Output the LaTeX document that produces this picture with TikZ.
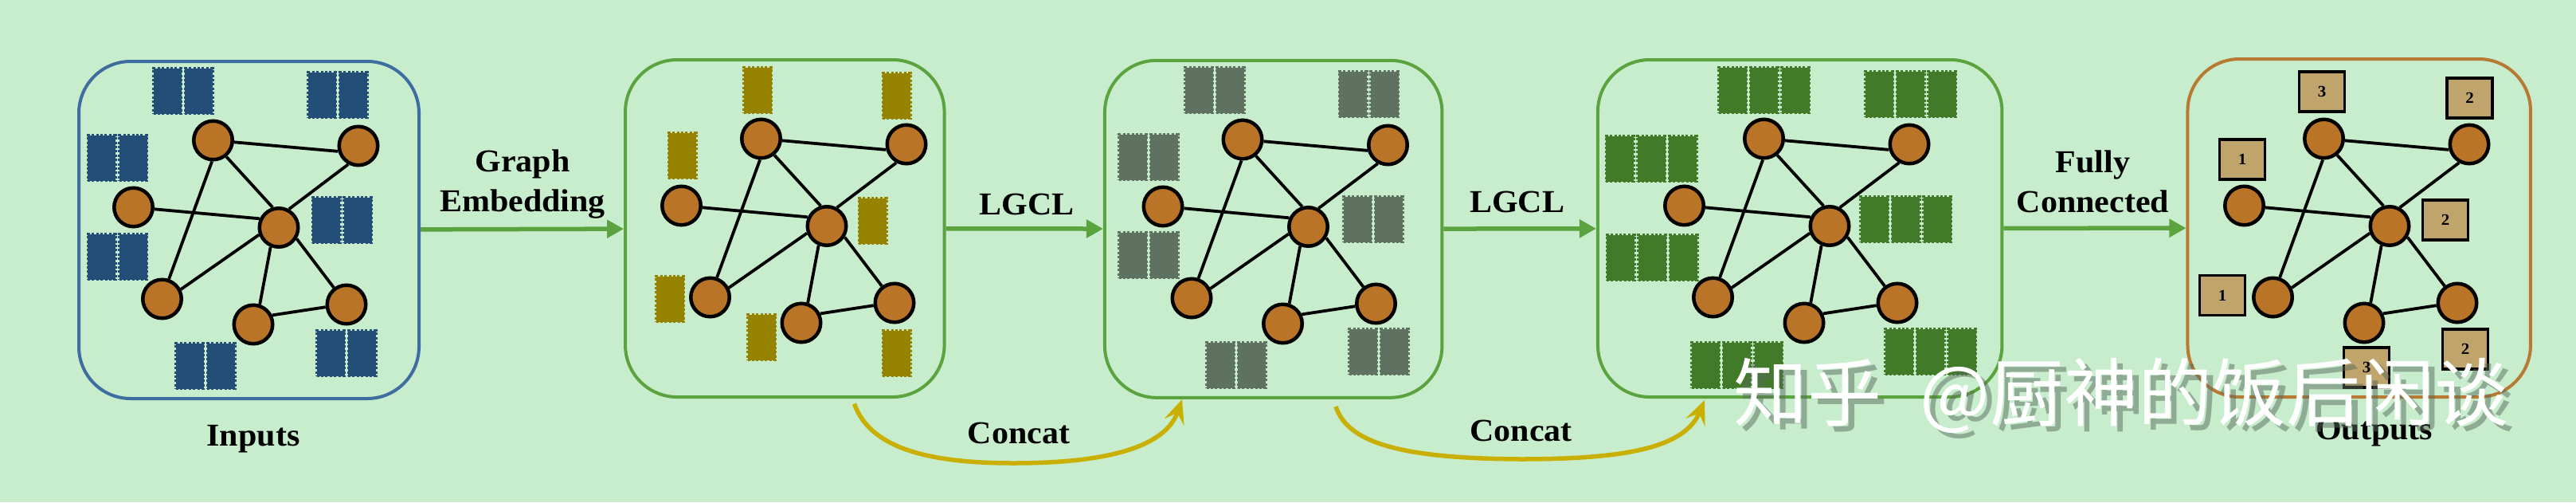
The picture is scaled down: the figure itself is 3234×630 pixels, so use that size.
\documentclass[tikz,border=0pt]{standalone}
\usepackage{fontspec}
\setmainfont[FakeStretch=1.05]{Liberation Serif}
\newfontfamily\cjkfont{Noto Sans CJK SC}
\usetikzlibrary{calc,arrows.meta}

\definecolor{bgcol}{HTML}{C7EDCD}
\definecolor{nodecol}{HTML}{BA7427}
\definecolor{inblue}{HTML}{234E78}
\definecolor{inborder}{HTML}{3E6D9F}
\definecolor{olivecol}{HTML}{958300}
\definecolor{graycol}{HTML}{5F7161}
\definecolor{greencol}{HTML}{417A29}
\definecolor{arrowcol}{HTML}{5AA33E}
\definecolor{outborder}{HTML}{B87A33}
\definecolor{tagcol}{HTML}{BFA56B}
\definecolor{concatcol}{HTML}{C9B000}

\tikzset{
  vertex/.style={circle,draw=black,fill=nodecol,line width=4.5pt,minimum size=48.5pt,inner sep=0pt},
  edge/.style={draw=black,line width=3.8pt},
  panel/.style={rectangle,rounded corners=65pt,line width=4pt,draw=arrowcol,inner sep=0pt},
  cellbox/.style={rectangle,anchor=north west,minimum width=35pt,minimum height=57pt,inner sep=0pt,
    line width=3pt,dash pattern=on 3pt off 2.4pt},
  tagbox/.style={rectangle,draw=black,fill=tagcol,line width=3.5pt,minimum width=57pt,minimum height=50pt,
    inner sep=0pt,font=\fontsize{20}{24}\selectfont\bfseries},
  caption/.style={anchor=base,inner sep=0pt,font=\fontsize{40}{50}\selectfont\bfseries},
  stage/.style={align=center,inner sep=0pt,font=\fontsize{40}{50}\selectfont\bfseries},
  flow/.style={draw=arrowcol,line width=5.5pt,-{Triangle[length=21pt,width=22pt]}},
  concat/.style={draw=concatcol,line width=5.5pt,-{Stealth[length=30pt,width=26pt,inset=12pt]}},
  markfont/.style={anchor=base west,inner sep=0pt,font=\fontsize{93}{95}\cjkfont},
}

% one graph, #1 is the name prefix, #2 the shift
\newcommand{\graphnet}[2]{
  \begin{scope}[shift={#2}]
    \node[vertex] (#1top) at (267.5,176) {};
    \node[vertex] (#1right) at (450,183) {};
    \node[vertex] (#1left) at (167.5,260) {};
    \node[vertex] (#1mid) at (350,285.5) {};
    \node[vertex] (#1bl) at (203.5,375) {};
    \node[vertex] (#1bm) at (318,407) {};
    \node[vertex] (#1br) at (435,382) {};
  \end{scope}
  % the lines do not aim at the centres
  \draw[edge] (#1top.-5) -- (#1right.195);
  \draw[edge] (#1top.-51) -- (#1mid.107);
  \draw[edge] (#1top.-93) -- (#1bl.71);
  \draw[edge] (#1left.-5) -- (#1mid.155);
  \draw[edge] (#1right.241) -- (#1mid.61);
  \draw[edge] (#1mid.200) -- (#1bl.27);
  \draw[edge] (#1mid.247) -- (#1bm.72);
  \draw[edge] (#1mid.-32) -- (#1br.127);
  \draw[edge] (#1bm.26) -- (#1br.187);
}

% row of feature cells: name, x, y, number of cells, colour
\newcommand{\featrow}[5]{
  \foreach \i in {1,...,#4}
    \node[cellbox,fill=#5,draw=#5] (#1\i) at ({#2+(\i-1)*39.5},#3) {};
}

\begin{document}
\begin{tikzpicture}[x=1pt,y=-1pt]
\fill[bgcol] (0,0) rectangle (3234,630);

% the five panels
\node[panel,draw=inborder,minimum width=427pt,minimum height=423pt] (inbox) at (312.5,288.5) {};
\node[panel,minimum width=400.5pt,minimum height=423pt] (embbox) at (985.3,286.5) {};
\node[panel,minimum width=423.5pt,minimum height=423pt] (lgclbox) at (1598.7,287.3) {};
\node[panel,minimum width=507.5pt,minimum height=423pt] (twobox) at (2259.7,286.5) {};
\node[panel,draw=outborder,minimum width=430.5pt,minimum height=424pt] (outbox) at (2961.7,286) {};

% graphs
\graphnet{a}{(0,0)}
\graphnet{b}{(688,-2)}
\graphnet{c}{(1292.5,-1)}
\graphnet{d}{(1947,-2)}
\graphnet{e}{(2650,-2)}

% input features
\featrow{ai}{191}{84}{2}{inblue}
\featrow{aii}{385}{89}{2}{inblue}
\featrow{aiii}{108.5}{168}{2}{inblue}
\featrow{aiv}{390.5}{246}{2}{inblue}
\featrow{av}{108.5}{292}{2}{inblue}
\featrow{avi}{396}{413}{2}{inblue}
\featrow{avii}{219}{429}{2}{inblue}

% after embedding
\featrow{bi}{932}{83}{1}{olivecol}
\featrow{bii}{1106.5}{90}{1}{olivecol}
\featrow{biii}{837.5}{165}{1}{olivecol}
\featrow{biv}{1076.5}{247}{1}{olivecol}
\featrow{bv}{822}{345}{1}{olivecol}
\featrow{bvi}{937}{393}{1}{olivecol}
\featrow{bvii}{1106.5}{413}{1}{olivecol}

% first LGCL
\featrow{ci}{1486}{83}{2}{graycol}
\featrow{cii}{1679.5}{88}{2}{graycol}
\featrow{ciii}{1403}{167}{2}{graycol}
\featrow{civ}{1685}{245}{2}{graycol}
\featrow{cv}{1403}{290}{2}{graycol}
\featrow{cvi}{1692}{411}{2}{graycol}
\featrow{cvii}{1513}{428}{2}{graycol}

% second LGCL
\featrow{di}{2156}{83}{3}{greencol}
\featrow{dii}{2340}{88}{3}{greencol}
\featrow{diii}{2014.5}{169}{3}{greencol}
\featrow{div}{2334}{245}{3}{greencol}
\featrow{dv}{2015.5}{293}{3}{greencol}
\featrow{dvi}{2365}{411}{3}{greencol}
\featrow{dvii}{2122}{428}{3}{greencol}

% class tags
\node[tagbox] (tagtop) at (2915,115) {3};
\node[tagbox] (tagright) at (3100.5,123) {2};
\node[tagbox] (tagleft) at (2815,200) {1};
\node[tagbox] (tagmid) at (3070,276) {2};
\node[tagbox] (tagbl) at (2790,370.5) {1};
\node[tagbox] (tagbm) at (2971,461) {3};
\node[tagbox] (tagbr) at (3095,438) {2};

% forward arrows
\draw[flow] (inbox) -- (embbox);
\draw[flow] (embbox) -- (lgclbox);
\draw[flow] (lgclbox) -- (twobox);
\draw[flow] (twobox) -- (outbox);

\node[stage] (embtext) at (656,231.5) {Graph\\Embedding};
\node[caption] (lgclone) at (1289,269) {LGCL};
\node[caption] (lgcltwo) at (1904.5,266) {LGCL};
\node[stage] (fctext) at (2627.5,228) {Fully\\Connected};
\node[caption] (intext) at (318,559) {Inputs};
\node[caption] (outtext) at (2980.5,551) {Outputs};

% skip connections
\coordinate (sa) at (1072.5,506.5);
\coordinate (ea) at (1484,501);
\coordinate (sb) at (1677,510);
\coordinate (eb) at (2140,502);
\draw[concat] (sa) .. controls (1092,562) and (1165,581) .. (1272,581)
  .. controls (1360,581) and (1460,570) .. (ea);
\draw[concat] (sb) .. controls (1692,556) and (1760,575) .. (1908,576)
  .. controls (2040,576) and (2115,562) .. (eb);
\node[caption] (concatone) at (1279,556.5) {Concat};
\node[caption] (concattwo) at (1909.5,553.5) {Concat};

% watermark
\node[markfont,text=black!55!bgcol,text opacity=.5] (markshadow)
  at (2184,534) {知乎\hspace{.52em}@厨神的饭后闲谈};
\node[markfont,text=white] (mark)
  at (2176,527) {知乎\hspace{.52em}@厨神的饭后闲谈};
\end{tikzpicture}
\end{document}
